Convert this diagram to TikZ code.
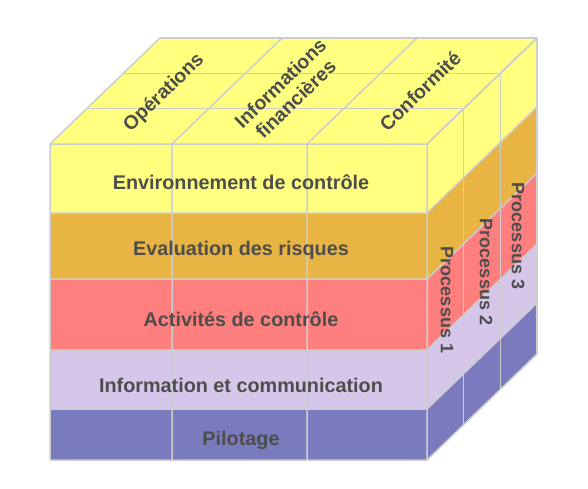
\documentclass[tikz,border=0pt]{standalone}
\usepackage{fontspec}
\setmainfont{Liberation Sans}
\usetikzlibrary{calc}
\definecolor{envcol}{HTML}{FFFF80}
\definecolor{evalcol}{HTML}{E8B444}
\definecolor{actcol}{HTML}{FF7F7F}
\definecolor{infcol}{HTML}{D6C7EA}
\definecolor{pilcol}{HTML}{7A7BBF}
\definecolor{gridcol}{HTML}{CDCDCD}
\definecolor{txtcol}{HTML}{4D4D4D}

\begin{document}
\begin{tikzpicture}[x=1pt, y=-1pt,
  edge/.style={draw=gridcol, line width=1.5pt, line join=round},
  lbl/.style={font=\fontsize{19.8}{22}\selectfont\bfseries, text=txtcol, inner sep=0pt, text height=14pt, text depth=0pt},
  toplbl/.style={font=\fontsize{19.5}{22}\selectfont\bfseries, text=txtcol, inner sep=0pt, rotate=44, align=center},
  proclbl/.style={font=\fontsize{18}{20}\selectfont\bfseries, text=txtcol, inner sep=0pt, rotate=-90}
]
  \useasboundingbox (0,0) rectangle (588,488);
  \def\dx{36.67}\def\dy{-35.33}
  % layers: front face and right face
  \foreach \ya/\yb/\col in {144/213/envcol, 213/279/evalcol, 279/350/actcol, 350/409/infcol, 409/460/pilcol}{
    \fill[\col] (50,\ya) rectangle (427,\yb);
    \fill[\col] (427,\ya) -- ++(3*\dx,3*\dy) -- ($(427,\yb)+(3*\dx,3*\dy)$) -- (427,\yb) -- cycle;
  }
  % top face
  \fill[envcol] (50,144) -- (427,144) -- ++(3*\dx,3*\dy) -- ++(-377,0) -- cycle;
  % grid
  \foreach \y in {144,213,279,350,409,460}{
    \draw[edge] (50,\y) -- (427,\y) -- ++(3*\dx,3*\dy);
  }
  \foreach \x in {50,172,307,427}{
    \draw[edge] (\x,460) -- (\x,144) -- ++(3*\dx,3*\dy);
  }
  \foreach \k in {1,2,3}{
    \draw[edge] ($(50,144)+(\k*\dx,\k*\dy)$) -- ($(427,144)+(\k*\dx,\k*\dy)$) -- ($(427,460)+(\k*\dx,\k*\dy)$);
  }
  % front labels
  \node[lbl] (env) at (241,182) {Environnement de contrôle};
  \node[lbl] (eval) at (241,248) {Evaluation des risques};
  \node[lbl] (act) at (241,319) {Activités de contrôle};
  \node[lbl] (inf) at (241,385) {Information et communication};
  \node[lbl] (pil) at (241,438) {Pilotage};
  % top labels
  \node[toplbl] (ops) at (164,93) {Opérations};
  \node[toplbl] (fin) at (288,91) {Informations\\financières};
  \node[toplbl] (conf) at (420,91) {Conformité};
  % right labels
  \node[proclbl] (proc1) at (447,300) {Processus 1};
  \node[proclbl] (proc2) at (486,272) {Processus 2};
  \node[proclbl] (proc3) at (518,236) {Processus 3};
\end{tikzpicture}
\end{document}
